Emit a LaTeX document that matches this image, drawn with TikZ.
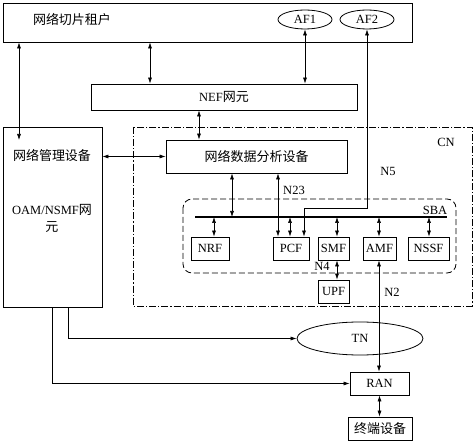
\documentclass[tikz,border=0pt]{standalone}
\usepackage{fontspec}
\setmainfont{Liberation Serif}
\newfontfamily\cjk{Noto Sans CJK SC}[Scale=1.04]
\usetikzlibrary{arrows.meta, shapes.geometric, positioning}

\tikzset{
	box/.style={draw, thick, inner sep=0pt, minimum height=23pt},
	oval/.style={draw, thick, ellipse, inner sep=0pt},
	lbl/.style={inner sep=0pt},
	>={Latex[length=6pt,width=4pt]}
}

\begin{document}
\begin{tikzpicture}[x=1pt, y=-1pt, line width=.6pt, font=\fontsize{12.5}{15}\selectfont]
			\useasboundingbox (0,0) rectangle (474,443);
			% frames
			\draw[dash pattern=on 7pt off 2pt on 1.2pt off 2pt] (133,127) rectangle (472,306);
			\draw[thick, dash pattern=on 6pt off 3pt, rounded corners=9pt] (183,199) rectangle (456,273);
			\node[lbl] (cnl) at (446,142) {CN};
			\node[lbl] (sbal) at (435,210) {SBA};
			% top part
			\node[box, minimum width=409pt, minimum height=39pt] (tenant) at (207.5,22.5) {};
			\node[lbl] (tenantl) at (72,20) {\cjk 网络切片租户};
			\node[oval, minimum width=54pt, minimum height=19pt] (af1) at (305,19.5) {AF1};
			\node[oval, minimum width=54pt, minimum height=19pt] (af2) at (367,19.5) {AF2};
			\node[box, minimum width=266pt, minimum height=26pt] (nef) at (224,97) {NEF{\cjk 网元}};
			\node[box, minimum width=99pt, minimum height=180pt] (oam) at (52.5,217) {};
			\node[lbl] (oamt) at (52,155) {\cjk 网络管理设备};
			\node[lbl, align=center] (oamn) at (52,218) {OAM/NSMF{\cjk 网}\\[2pt]{\cjk 元}};
			\node[box, minimum width=181pt, minimum height=33pt] (nwdaf) at (256.5,156.5) {\cjk 网络数据分析设备};
			% network functions
			\coordinate (busL) at (195,217);
			\coordinate (busR) at (447,217);
			\draw[line width=1.6pt] (busL) -- (busR);
			\node[box, minimum width=38pt] (nrf) at (210,248.5) {NRF};
			\node[box, minimum width=36pt] (pcf) at (291,248.5) {PCF};
			\node[box, minimum width=31pt] (smf) at (333.5,248.5) {SMF};
			\node[box, minimum width=33pt] (amf) at (379.5,248.5) {AMF};
			\node[box, minimum width=41pt] (nssf) at (428.5,248.5) {NSSF};
			\node[box, minimum width=31pt] (upf) at (333.5,291.5) {UPF};
			% access side
			\node[oval, minimum width=126pt, minimum height=33pt] (tn) at (360,338.5) {TN};
			\node[box, minimum width=59pt] (ran) at (379.5,383.5) {RAN};
			\node[box, minimum width=64pt] (ue) at (380,428.5) {\cjk 终端设备};
			% connectors
			\coordinate (oamin) at (19,140);
			\draw[<->] (19,0 |- tenant.south) -- (oamin);
			\draw[<->] (150,0 |- tenant.south) -- (150,0 |- nef.north);
			\draw[<->] (af1.south) -- (af1.south |- nef.north);
			\draw[<->] (199,0 |- nef.south) -- (199,0 |- nwdaf.north);
			\draw[<->] (nwdaf.west -| oam.east) -- (nwdaf.west);
			\draw[<->] (232,0 |- nwdaf.south) -- (232,0 |- busL);
			\draw[<->] (278,0 |- nwdaf.south) -- (278,0 |- pcf.north);
			\draw[<->] (304,0 |- pcf.north) |- (af2.south |- 0,208) -- (af2.south);
			\foreach \nf/\xx in {nrf/214, pcf/290, smf/337, amf/379, nssf/429}{
				\draw[<->] (\xx,0 |- busL) -- (\xx,0 |- \nf.north);
			}
			\draw[<->] (337,0 |- smf.south) -- (337,0 |- upf.north);
			\draw[<->] (379,0 |- amf.south) -- (379,0 |- ran.north);
			\draw[<->] (ran.south) -- (ran.south |- ue.north);
			\draw[->] (68,0 |- oam.south) |- (tn.west);
			\draw[->] (52,0 |- oam.south) |- (ran.west);
			% interface labels
			\node[lbl] (n5) at (388,171) {N5};
			\node[lbl] (n23) at (294,190) {N23};
			\node[lbl] (n4) at (322,266) {N4};
			\node[lbl] (n2) at (392,292) {N2};
\end{tikzpicture}
\end{document}
